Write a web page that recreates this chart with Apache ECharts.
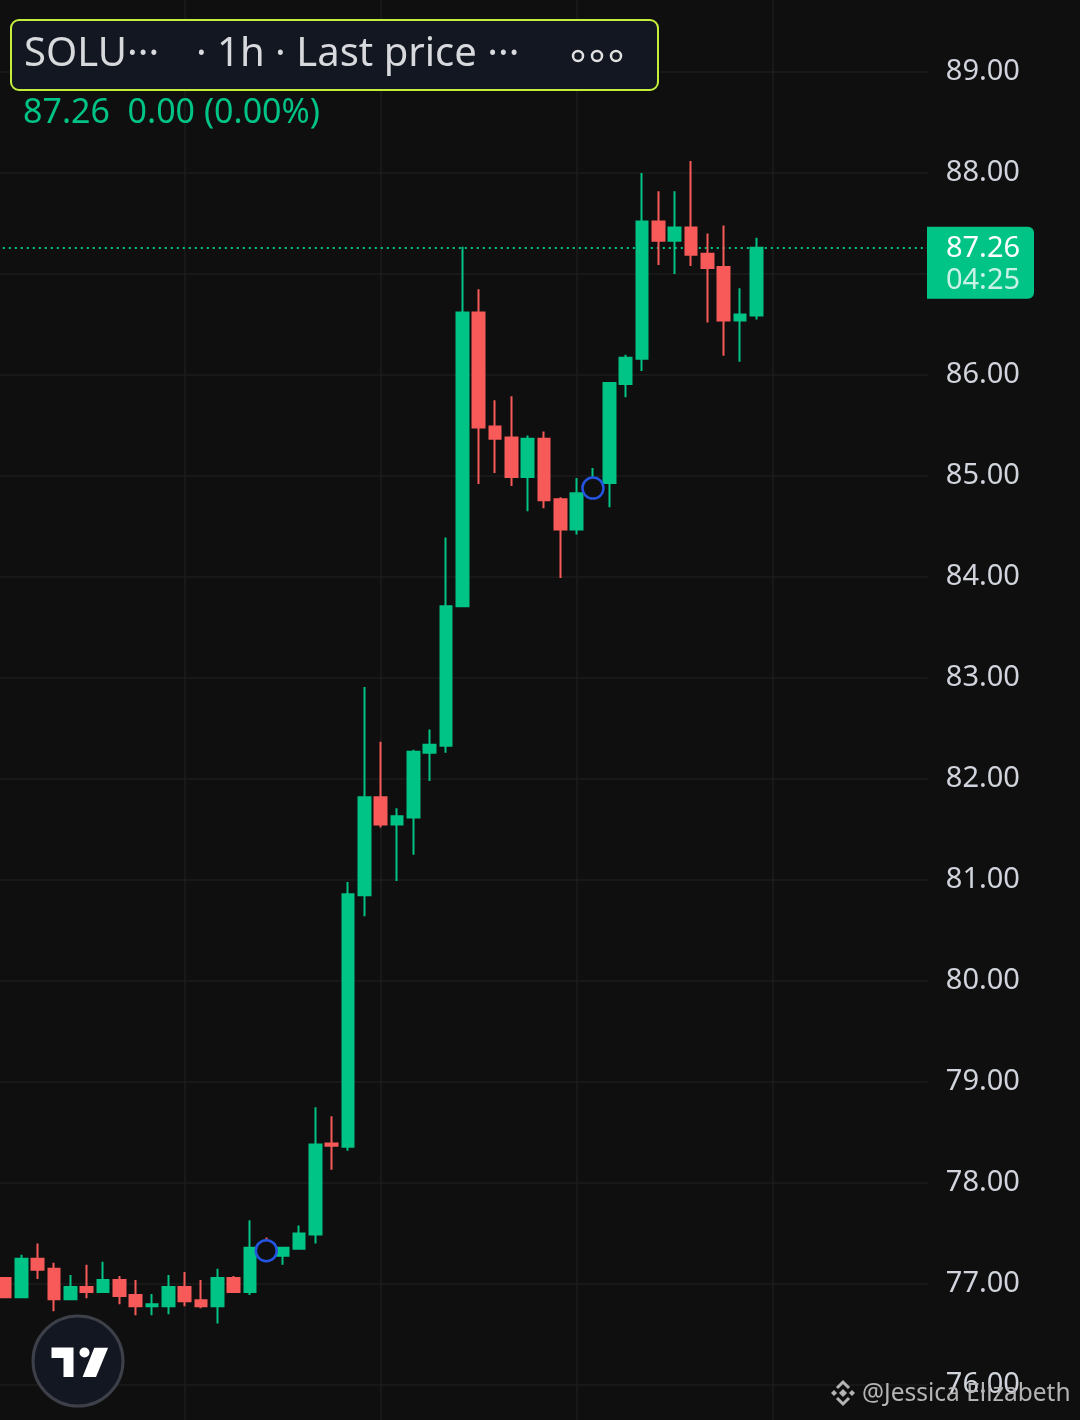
<!DOCTYPE html>
<html>
<head>
<meta charset="utf-8">
<script src="https://cdn.jsdelivr.net/npm/echarts@6/dist/echarts.min.js"></script>
<style>
html,body{margin:0;padding:0;background:#0f0f0f;}
#chart{width:1080px;height:1420px;}
</style>
</head>
<body>
<div id="chart"></div>
<script>
// ---- data ----
var categories = [
 '13:00','14:00','15:00','16:00','17:00','18:00','19:00','20:00','21:00','22:00','23:00',
 '00:00','01:00','02:00','03:00','04:00','05:00','06:00','07:00','08:00','09:00','10:00','11:00',
 '12:00','13:00','14:00','15:00','16:00','17:00','18:00','19:00','20:00','21:00','22:00','23:00',
 '00:00','01:00','02:00','03:00','04:00','05:00','06:00','07:00','08:00','09:00','10:00','11:00',
 '12:00','13:00','14:00','15:00','16:00','17:00','18:00','19:00','20:00','21:00'
];
var opens  = [77.06,76.87,77.25,77.15,76.85,76.97,76.92,77.04,76.89,76.78,76.78,76.97,76.84,76.78,77.06,76.92,77.35,77.28,77.35,77.49,78.39,78.36,80.85,81.82,81.55,81.62,82.26,82.33,83.71,86.62,85.49,85.38,84.99,85.37,84.77,84.47,84.86,84.93,85.91,86.16,87.52,87.33,87.46,87.20,87.07,86.54,86.59];
var closes = [76.87,77.25,77.14,76.85,76.97,76.92,77.04,76.88,76.78,76.80,76.97,76.83,76.78,77.06,76.92,77.36,77.32,77.36,77.50,78.38,78.37,80.86,81.82,81.55,81.63,82.27,82.34,83.71,86.62,85.48,85.37,84.99,85.37,84.76,84.47,84.83,84.90,85.92,86.17,87.52,87.33,87.46,87.19,87.06,86.54,86.60,87.26];
var lows   = [76.86,76.86,77.05,76.73,76.85,76.86,76.92,76.80,76.69,76.69,76.70,76.78,76.76,76.61,76.92,76.89,77.30,77.19,77.34,77.40,78.13,78.32,80.64,81.52,80.99,81.25,81.98,82.26,83.71,84.92,85.03,84.90,84.65,84.68,83.99,84.42,84.84,84.69,85.78,86.04,87.09,87.00,87.08,86.52,86.19,86.13,86.55];
var highs  = [77.07,77.29,77.40,77.21,77.09,77.19,77.22,77.08,77.04,76.90,77.09,77.12,77.04,77.15,77.08,77.63,77.46,77.36,77.58,78.75,78.66,80.98,82.91,82.37,81.71,82.29,82.49,84.39,87.27,86.85,85.75,85.79,85.40,85.44,84.79,84.98,85.08,85.93,86.20,88.00,87.82,87.82,88.12,87.40,87.48,86.86,87.36];
var markerIndex = [16, 36];
var markerPrice = [77.33, 84.88];
var lastPrice = 87.26;
var countdown = '04:25';
var headerTitle = 'SOLU\u00b7\u00b7\u00b7';
var headerInfo = '\u00b7 1h \u00b7 Last price \u00b7\u00b7\u00b7';
var headerChange = '87.26  0.00 (0.00%)';
var watermark = '@Jessica Elizabeth';

var UP = '#00c386', DOWN = '#f75a58', BG = '#0f0f0f', GRID = '#1c1c1c';

var candleData = opens.map(function (o, i) { return [o, closes[i], lows[i], highs[i]]; });
var markerData = markerIndex.map(function (idx, i) { return [idx, markerPrice[i]]; });

var chart = echarts.init(document.getElementById('chart'), null, {renderer: 'canvas'});
chart.setOption({
  animation: false,
  backgroundColor: BG,
  grid: {left: -3.2, right: 152.2, top: -29, bottom: -66, containLabel: false, outerBoundsMode: 'none'},
  xAxis: {
    type: 'category', data: categories, boundaryGap: true,
    axisLine: {show: false}, axisTick: {show: false}, axisLabel: {show: false},
    splitLine: {
      show: true, alignWithLabel: true,
      interval: function (idx, val) { return val === '00:00' || val === '12:00'; },
      lineStyle: {color: GRID, width: 1.5}
    }
  },
  yAxis: {
    type: 'value', position: 'right', min: 75, max: 90, interval: 1,
    axisLine: {show: false}, axisTick: {show: false},
    axisLabel: {
      formatter: function (v) { return v.toFixed(2); },
      color: '#d1d4dc', fontSize: 29, fontFamily: 'Noto Sans', margin: 18,
      padding: [4, 0, 0, 0]
    },
    splitLine: {lineStyle: {color: GRID, width: 1.5}}
  },
  series: [{
    type: 'candlestick',
    data: candleData,
    barWidth: 12,
    clip: false,
    z: 2,
    itemStyle: {color: UP, color0: DOWN, borderColor: UP, borderColor0: DOWN, borderWidth: 2},
    markLine: {
      silent: true, symbol: 'none', z: 1,
      label: {show: false},
      lineStyle: {color: UP, type: [2, 4], width: 2},
      data: [{yAxis: lastPrice}]
    }
  }, {
    type: 'scatter',
    data: markerData,
    symbol: 'circle', symbolSize: 21, z: 10,
    itemStyle: {color: BG, opacity: 1, borderColor: '#2455e0', borderWidth: 2.5}
  }]
});

var py = chart.convertToPixel({yAxisIndex: 0}, lastPrice);
var FONT = 'Noto Sans';
function diamond(cx, cy, r, fill) {
  return {type: 'polygon', shape: {points: [[cx, cy - r], [cx + r, cy], [cx, cy + r], [cx - r, cy]]}, style: {fill: fill}, z: 100};
}
var wmColor = '#b4b4b4';
chart.setOption({
  graphic: [
    // header box
    {type: 'rect', shape: {x: 11, y: 20, width: 647, height: 70, r: 8}, style: {fill: '#131722', stroke: '#c5ee3c', lineWidth: 2}, z: 100},
    {type: 'text', style: {x: 24, y: 55, text: headerTitle, fill: '#d8d9dd', font: '40px "' + FONT + '"', textVerticalAlign: 'middle'}, z: 101},
    {type: 'text', style: {x: 196, y: 55, text: headerInfo, fill: '#d8d9dd', font: '40px "' + FONT + '"', textVerticalAlign: 'middle'}, z: 101},
    {type: 'circle', shape: {cx: 578, cy: 56, r: 5}, style: {fill: 'none', stroke: '#e0e0e0', lineWidth: 2.5}, z: 101},
    {type: 'circle', shape: {cx: 597, cy: 56, r: 5}, style: {fill: 'none', stroke: '#e0e0e0', lineWidth: 2.5}, z: 101},
    {type: 'circle', shape: {cx: 616, cy: 56, r: 5}, style: {fill: 'none', stroke: '#e0e0e0', lineWidth: 2.5}, z: 101},
    {type: 'text', style: {x: 23, y: 113, text: headerChange, fill: UP, font: '34px "' + FONT + '"', textVerticalAlign: 'middle'}, z: 101},
    // price tag
    {type: 'rect', shape: {x: 927, y: py - 21, width: 107, height: 72, r: [0, 6, 6, 0]}, style: {fill: UP}, z: 100},
    {type: 'text', style: {x: 983, y: py + 1, text: lastPrice.toFixed(2), fill: '#ffffff', font: '29px "' + FONT + '"', textAlign: 'center', textVerticalAlign: 'middle'}, z: 101},
    {type: 'text', style: {x: 983, y: py + 33, text: countdown, fill: 'rgba(255,255,255,0.78)', font: '29px "' + FONT + '"', textAlign: 'center', textVerticalAlign: 'middle'}, z: 101},
    // logo
    {type: 'circle', shape: {cx: 78, cy: 1361, r: 45}, style: {fill: '#131722', stroke: '#3d4049', lineWidth: 3}, z: 100},
    {type: 'polygon', shape: {points: [[51.5, 1347.5], [73.5, 1347.5], [73.5, 1377], [63.5, 1377], [63.5, 1358], [51.5, 1358]]}, style: {fill: '#ffffff'}, z: 101},
    {type: 'circle', shape: {cx: 84.5, cy: 1352.5, r: 5}, style: {fill: '#ffffff'}, z: 101},
    {type: 'polygon', shape: {points: [[94.3, 1347.7], [108.1, 1347.7], [96, 1377], [82.6, 1377]]}, style: {fill: '#ffffff'}, z: 101},
    // watermark
    diamond(843, 1393, 4, wmColor),
    diamond(834, 1393, 3, wmColor),
    diamond(852, 1393, 3, wmColor),
    {type: 'polyline', shape: {points: [[837, 1388], [843, 1382], [849, 1388]]}, style: {stroke: wmColor, lineWidth: 3, fill: 'none'}, z: 100},
    {type: 'polyline', shape: {points: [[837, 1398], [843, 1404], [849, 1398]]}, style: {stroke: wmColor, lineWidth: 3, fill: 'none'}, z: 100},
    {type: 'text', style: {x: 862, y: 1394, text: watermark, fill: wmColor, font: '24.5px "' + FONT + '"', textVerticalAlign: 'middle'}, z: 100}
  ]
});
</script>
</body>
</html>
